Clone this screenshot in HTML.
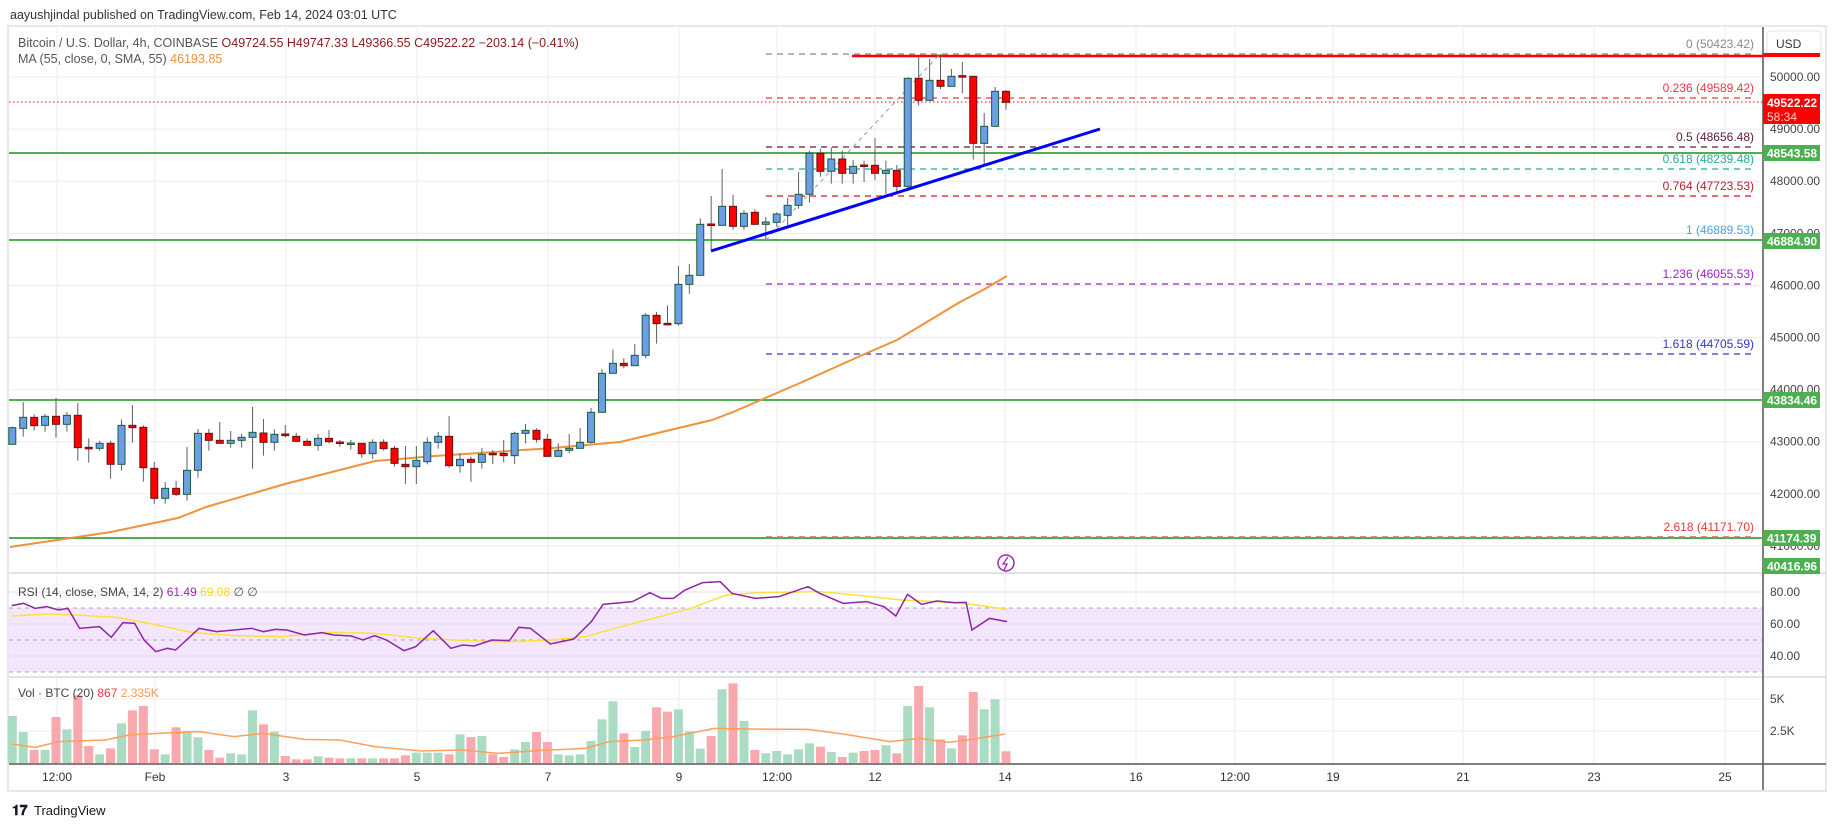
<!DOCTYPE html>
<html><head><meta charset="utf-8"><style>
html,body{margin:0;padding:0;background:#fff;width:1835px;height:827px;overflow:hidden;font-family:"Liberation Sans",sans-serif}
svg{display:block}
</style></head><body>
<svg id="s" width="1835" height="827" xmlns="http://www.w3.org/2000/svg" font-family="Liberation Sans, sans-serif">
<rect x="0" y="0" width="1835" height="827" fill="#fff"/>
<text x="10" y="19" font-size="12.5" fill="#333">aayushjindal published on TradingView.com, Feb 14, 2024 03:01 UTC</text>
<rect x="8" y="26" width="1818" height="765" fill="none" stroke="#e6e8ee" stroke-width="2"/>
<g id="g"></g>
</svg>
<script>
const NS="http://www.w3.org/2000/svg";const g=document.getElementById('g');
function el(t,a,txt){const e=document.createElementNS(NS,t);for(const k in a)e.setAttribute(k,a[k]);if(txt!==undefined)e.textContent=txt;g.appendChild(e);return e;}
const R=1763;
// grids
const vx=[57,155,286,417,548,679,777,875,1005,1136,1235,1333,1463,1594,1725];
vx.forEach(x=>el('line',{x1:x,y1:27,x2:x,y2:764,stroke:'#ececf0','stroke-width':1}));
const py=p=>77+(50000-p)*0.0521;
for(let p=41000;p<=50000;p+=1000){el('line',{x1:9,y1:py(p),x2:R,y2:py(p),stroke:'#ececf0'});}
// RSI pane
const ry=v=>592+(80-v)*1.6;
el('rect',{x:9,y:ry(70),width:R-9,height:ry(30)-ry(70),fill:'#f3e6fd'});
[80,60,40].forEach(v=>el('line',{x1:9,y1:ry(v),x2:R,y2:ry(v),stroke:'#e4dcec'}));
[70,50,30].forEach(v=>el('line',{x1:9,y1:ry(v),x2:R,y2:ry(v),stroke:'#aaa','stroke-dasharray':'4 4'}));
// vol grid
[699,731].forEach(y=>el('line',{x1:9,y1:y,x2:R,y2:y,stroke:'#ececf0'}));
// separators
el('line',{x1:9,y1:573,x2:1826,y2:573,stroke:'#e0e3eb','stroke-width':2});
el('line',{x1:9,y1:677,x2:1826,y2:677,stroke:'#e0e3eb','stroke-width':2});
el('line',{x1:9,y1:764,x2:1826,y2:764,stroke:'#555','stroke-width':1.5});
el('line',{x1:R,y1:27,x2:R,y2:790,stroke:'#555','stroke-width':1.5});
// time labels
const tl=['12:00','Feb','3','5','7','9','12:00','12','14','16','12:00','19','21','23','25'];
tl.forEach((t,i)=>el('text',{x:vx[i],y:781,'font-size':12,fill:'#333','text-anchor':'middle'},t));
// price labels
for(let p=42000;p<=50000;p+=1000){el('text',{x:1770,y:py(p)+4,'font-size':12,fill:'#444'},p.toFixed(2));}
el('text',{x:1770,y:py(41000)+4,'font-size':12,fill:'#444'},'41000.00');
[[80,'80.00'],[60,'60.00'],[40,'40.00']].forEach(a=>el('text',{x:1770,y:ry(a[0])+4,'font-size':12,fill:'#444'},a[1]));
el('text',{x:1770,y:703,'font-size':12,fill:'#444'},'5K');
el('text',{x:1770,y:735,'font-size':12,fill:'#444'},'2.5K');
// USD box
el('rect',{x:1767,y:31,width:54,height:26,rx:4,fill:'#fff',stroke:'#e0e3eb'});
el('text',{x:1776,y:48,'font-size':12,fill:'#333'},'USD');
// fib lines
const fib=[[54,'#888','0 (50423.42)'],[98,'#f23645','0.236 (49589.42)'],[147,'#5d1a3a','0.5 (48656.48)'],[169,'#22ab94','0.618 (48239.48)'],[196,'#e0141e','0.764 (47723.53)'],[240,'#4aa3df','1 (46889.53)'],[284,'#a020d0','1.236 (46055.53)'],[354,'#3434d0','1.618 (44705.59)'],[537,'#e53935','2.618 (41171.70)']];
const fibTxt={'#e0141e':'#b2222d'};
fib.forEach(f=>{el('line',{x1:766,y1:f[0],x2:R-8,y2:f[0],stroke:f[1],'stroke-width':1.3,'stroke-dasharray':'6 5'});
 el('text',{x:1754,y:f[0]-6,'font-size':12,fill:fibTxt[f[1]]||f[1],'text-anchor':'end'},f[2]);});
// red dotted current price
el('line',{x1:9,y1:102,x2:R,y2:102,stroke:'#f00','stroke-width':1,'stroke-dasharray':'1.5 2.5'});
// green horizontals
[153,240,400,538].forEach(y=>el('line',{x1:9,y1:y,x2:R,y2:y,stroke:'#4caf50','stroke-width':2}));
// red top line
el('line',{x1:852,y1:56,x2:R,y2:56,stroke:'#f00','stroke-width':2.5});
el('rect',{x:R,y:53,width:57,height:4,fill:'#f00'});
// diag
el('line',{x1:766,y1:240,x2:940,y2:54,stroke:'#999','stroke-width':1,'stroke-dasharray':'4 4'});
// MA
const ma=[[10,547],[111,532],[178,518],[206,507],[285,484],[375,461],[435,456],[553,448],[620,442],[712,420],[733,412],[763,399],[800,383],[867,353],[897,340],[960,302],[983,290],[1007,276]];
el('polyline',{points:ma.map(p=>p.join(',')).join(' '),fill:'none',stroke:'#f0923a','stroke-width':2});
// candles [O,C,H,L]
const z8=[[253,203,200,253],[205,172,126,230],[172,197,163,212],[196,169,162,215],[169,193,114,233],[193,166,156,215],[166,263,129,302],[262,266,235,308],[265,250,243,272],[250,313,243,356],[313,196,178,332],[196,203,135,248],[202,323,196,365],[325,415,306,431],[415,385,366,431],[385,403,363,408],[403,331,261,422],[331,220,207,353],[220,241,207,272],[241,250,186,250],[250,241,213,263],[241,232,222,263],[232,217,141,326],[219,247,177,287],[247,223,208,272],[222,227,195,232],[229,244,219,244],[244,256,235,256],[256,235,222,272],[235,245,210,250],[246,250,240,260],[250,249,240,269],[250,281,250,293],[281,247,238,297],[247,266,238,272],[265,310,258,320],[313,320,258,372],[320,301,258,372],[305,247,232,313],[247,229,216,266],[229,317,168,323],[317,298,280,338],[298,307,290,365],[307,283,264,326],[280,284,270,312],[280,287,240,307],[287,220,215,312],[220,211,192,250],[211,238,205,248],[238,289,222,289],[289,271,250,289],[271,265,222,280],[265,247,204,266],[247,157,144,250]];
const z9=[[1117,1000,988,1117],[1000,970,928,1000],[970,977,955,985],[977,946,912,977],[946,826,819,955],[826,851,816,911],[850,852,796,857],[851,733,678,857],[733,706,672,761],[706,553,535,706],[552,554,468,630],[556,499,387,556],[499,559,465,569],[559,520,510,569],[517,553,508,553],[553,546,531,598],[547,522,517,560],[526,496,473,556],[496,463,396,506],[463,340,333,488],[340,394,326,410],[394,357,322,431],[357,400,332,431],[400,379,360,431],[375,377,362,426],[376,400,294,420],[400,391,362,462],[391,439,375,462],[439,115,112,445],[115,181,52,197],[181,121,57,181],[121,139,42,147],[139,109,87,139],[107,110,66,160],[109,310,109,359],[310,259,219,372],[259,154,141,259],[154,187,150,209]];
const C=[];z8.forEach(c=>C.push(c.map(v=>360+v/3)));z9.forEach(c=>C.push(c.map(v=>40+v/3)));
const X=i=>12.3+i*10.92;
C.forEach((c,i)=>{const x=X(i);const up=c[1]<c[0];
 el('line',{x1:x,y1:c[2],x2:x,y2:c[3],stroke:'#5d606b','stroke-width':1});
 const t=Math.min(c[0],c[1]),h=Math.max(1.5,Math.abs(c[0]-c[1]));
 el('rect',{x:x-3.5,y:t,width:7,height:h,fill:up?'#6a9fe8':'#ff0000',stroke:up?'#1f5a3a':'#6b1010','stroke-width':1});});
// trendline
el('line',{x1:711,y1:251,x2:1100,y2:129,stroke:'#0000ff','stroke-width':3});
// axis tags
function tag(y,bg,t,h){el('rect',{x:R,y:y-(h||16)/2,width:57,height:h||16,fill:bg});el('text',{x:R+4,y:y+4.5,'font-size':12,'font-weight':'bold',fill:'#fff'},t);}
tag(153,'#4caf50','48543.58');tag(241,'#4caf50','46884.90');tag(400,'#4caf50','43834.46');tag(538,'#4caf50','41174.39');tag(566,'#4caf50','40416.96');
el('rect',{x:R,y:94,width:57,height:30,fill:'#f00'});
el('text',{x:R+4,y:107,'font-size':12,'font-weight':'bold',fill:'#fff'},'49522.22');
el('text',{x:R+4,y:121,'font-size':12,fill:'#ffd0d0'},'58:34');
// lightning
el('circle',{cx:1006,cy:563,r:8,fill:'#fff',stroke:'#9c27b0','stroke-width':1.5});
el('path',{d:'M1008,557 L1003,564 L1007,564 L1004,570',fill:'none',stroke:'#9c27b0','stroke-width':1.3});
// RSI lines (zoom3 out coords)
const cx=o=>o*1.171,cy=o=>540+o/3.0;
const rsiP=[[10,197],[20,190],[30,205],[40,200],[50,210],[58,205],[68,265],[85,260],[95,292],[105,248],[115,250],[123,300],[133,335],[143,325],[150,330],[170,265],[185,275],[215,265],[225,275],[235,268],[245,270],[260,285],[275,278],[285,285],[300,288],[310,300],[320,287],[330,300],[345,332],[355,320],[370,272],[385,325],[395,315],[405,318],[420,300],[435,302],[443,262],[453,265],[470,312],[490,297],[505,245],[515,193],[540,185],[555,158],[565,175],[575,175],[585,150],[600,128],[615,125],[625,160],[645,175],[665,170],[690,140],[700,160],[720,190],[740,185],[755,200],[765,228],[775,163],[787,193],[800,183],[815,188],[825,187],[830,270],[845,235],[860,245]];
const rsiS=[[10,228],[40,222],[65,225],[100,232],[130,252],[165,278],[200,287],[240,290],[280,277],[320,280],[360,295],[400,302],[430,306],[470,300],[500,290],[530,260],[560,233],[590,205],[620,165],[650,158],[700,155],[730,165],[770,180],[800,185],[830,193],[860,208]];
el('polyline',{points:rsiS.map(p=>cx(p[0])+','+cy(p[1])).join(' '),fill:'none',stroke:'#fde13a','stroke-width':1.5});
el('polyline',{points:rsiP.map(p=>cx(p[0])+','+cy(p[1])).join(' '),fill:'none',stroke:'#8e24aa','stroke-width':1.5});
// RSI legend
const lg=el('text',{x:18,y:596,'font-size':12,fill:'#444'});
lg.innerHTML='RSI (14, close, SMA, 14, 2) <tspan fill="#9c27b0">61.49</tspan> <tspan fill="#f5d90a">69.08</tspan> <tspan fill="#555">∅ ∅</tspan>';
// volume
let vh=[141,93,39,39,138,101,203,51,26,44,119,158,171,41,26,107,96,77,39,16,29,26,158,116,94,21,11,11,20,16,14,14,14,14,14,14,23,31,31,31,26,86,78,81,26,18,41,63,93,63,26,23,26,66,131,185,89,48,96,167,154,161,95,43,81,221,239,126,39,29,36,26,41,59,49,33,18,31,36,39,53,29,171,231,167,71,44,83,213,161,191,35];
vh.forEach((h,i)=>{const c=C[i];if(!c)return;const up=c[1]<c[0];const hh=h/3.0;
 el('rect',{x:X(i)-4.5,y:763-hh,width:9,height:hh,fill:up?'#a9dcc3':'#f7a9ae'});});
const vma=[[10,612],[30,622],[50,605],[90,600],[110,585],[135,580],[170,575],[200,590],[225,580],[260,598],[290,600],[320,620],[360,633],[395,630],[425,640],[460,632],[500,625],[520,605],[550,600],[575,590],[610,565],[640,567],[690,568],[720,582],[760,605],[785,595],[810,607],[830,598],[858,582]];
el('polyline',{points:vma.map(p=>cx(p[0])+','+cy(p[1])).join(' '),fill:'none',stroke:'#ff9f5a','stroke-width':1.5});
const vl=el('text',{x:18,y:697,'font-size':12,fill:'#444'});
vl.innerHTML='Vol · BTC (20) <tspan fill="#f23645">867</tspan> <tspan fill="#ff9850">2.335K</tspan>';
// main legend
const l1=el('text',{x:18,y:47,'font-size':12.5,fill:'#555'});
l1.innerHTML='Bitcoin / U.S. Dollar, 4h, COINBASE  <tspan fill="#8b1a1a">O49724.55  H49747.33  L49366.55  C49522.22  −203.14 (−0.41%)</tspan>';
const l2=el('text',{x:18,y:63,'font-size':12.5,fill:'#555'});
l2.innerHTML='MA (55, close, 0, SMA, 55)  <tspan fill="#f0923a">46193.85</tspan>';
// logo
el('text',{x:12,y:815,'font-size':14,'font-weight':'bold',fill:'#131722'},'𝟏𝟕');
el('text',{x:34,y:815,'font-size':13,fill:'#131722'},'TradingView');
</script>
</body></html>
